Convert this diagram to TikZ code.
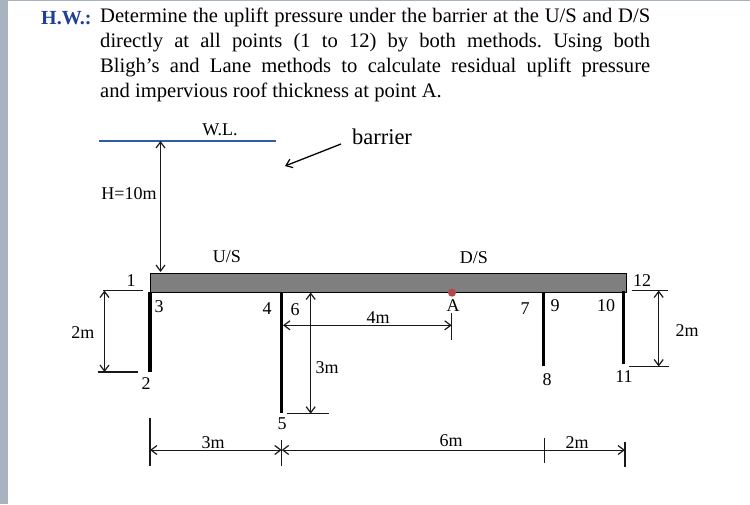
\documentclass[tikz,border=0pt]{standalone}
\usepackage{fontspec}
\setmainfont{Liberation Serif}
\usetikzlibrary{arrows.meta}
\definecolor{hwblue}{HTML}{1F3F94}
\definecolor{wlblue}{HTML}{2F5CA8}
\definecolor{strip}{HTML}{A9B2BF}
\definecolor{slab}{HTML}{7F7F7F}
\definecolor{dotred}{HTML}{B5474A}
\tikzset{
  x=1pt,y=-1pt,
  >={Straight Barb[length=6pt,width=9pt,line width=1.2pt]},
  lbl/.style={inner sep=0pt,yshift=-1pt,font=\fontsize{18}{20}\selectfont},
  dim/.style={line width=1pt,black!90},
  thin line/.style={line width=1.1pt,black!90},
  sheet/.style={line width=3.2pt},
  para/.style={inner sep=0pt,anchor=north west,text width=550pt,align=justify,font=\fontsize{20.6}{25}\selectfont}
}
\begin{document}
\begin{tikzpicture}
\useasboundingbox (0,0) rectangle (750,504);
\fill[white] (0,0) rectangle (750,504);
\fill[strip] (0,0) rectangle (8,504);
\fill[strip] (0,0) rectangle (750,1.2);
% text
\node[inner sep=0pt,anchor=base west,font=\fontsize{20}{25}\selectfont\bfseries,text=hwblue] (hw) at (41,24) {H.W.:};
\node[para] (body) at (100,7.5) {\frenchspacing Determine the uplift pressure under the barrier at the U/S and D/S\linebreak directly at all points (1 to 12) by both methods. Using both\linebreak Bligh’s and Lane methods to calculate residual uplift pressure\linebreak and impervious roof thickness at point A.};
% water level
\coordinate (wlL) at (99,140.5); \coordinate (wlR) at (276,140.5);
\draw[line width=2pt,wlblue] (wlL) -- (wlR);
\node[lbl] (wl) at (220,129) {W.L.};
\node[inner sep=0pt,font=\fontsize{22.5}{24}\selectfont] (barrier) at (382,137) {barrier};
\coordinate (barS) at (341,144); \coordinate (barE) at (285,166);
\draw[->,line width=1.3pt] (barS) -- (barE);
% slab
\node[draw=black,line width=1.1pt,fill=slab,inner sep=0pt,minimum width=476pt,minimum height=19.5pt,anchor=north west] (slabN) at (149.5,272.7) {};
% head
\coordinate (hT) at (160.5,141); \coordinate (hB) at (160.5,272);
\draw[<->,dim] (hT) -- (hB);
\node[lbl] (hh) at (129,193) {H=10m};
% sheet piles
\coordinate (s1T) at (150,292); \coordinate (s1B) at (150,371.5);
\coordinate (s2T) at (281.7,292); \coordinate (s2B) at (281.7,412.7);
\coordinate (s3T) at (543.3,292); \coordinate (s3B) at (543.3,366);
\coordinate (s4T) at (623.3,291); \coordinate (s4B) at (623.3,364);
\draw[sheet] (s1T) -- (s1B);
\draw[sheet] (s2T) -- (s2B);
\draw[sheet] (s3T) -- (s3B);
\draw[sheet] (s4T) -- (s4B);
% left 2m
\coordinate (l1a) at (103,290.5); \coordinate (l1b) at (143,290.5);
\coordinate (l2a) at (98,372); \coordinate (l2b) at (138,372);
\coordinate (lT) at (104.5,290.5); \coordinate (lB) at (104.5,372);
\draw[thin line] (l1a) -- (l1b);
\draw[thin line] (l2a) -- (l2b);
\draw[<->,dim] (lT) -- (lB);
\node[lbl] (d2l) at (83,332) {2m};
% 3m
\coordinate (m1T) at (310.7,292.5); \coordinate (m1B) at (310.7,413.7);
\coordinate (t3a) at (287,413.7); \coordinate (t3b) at (329,413.7);
\draw[thin line] (t3a) -- (t3b);
\draw[<->,dim] (m1T) -- (m1B);
\node[lbl] (d3) at (327,367) {3m};
% 4m to A
\coordinate (a4L) at (283,325.3); \coordinate (a4R) at (451.7,325.3);
\coordinate (tAa) at (451.7,313); \coordinate (tAb) at (451.7,340);
\draw[<->,dim] (a4L) -- (a4R);
\draw[thin line] (tAa) -- (tAb);
\node[lbl] (d4) at (378,317) {4m};
\node[circle,fill=dotred,inner sep=0pt,minimum size=8pt] (dotA) at (452,292.7) {};
\node[lbl] (la) at (453,305) {A};
% right 2m
\coordinate (r1a) at (632,290.5); \coordinate (r1b) at (668,290.5);
\coordinate (r2a) at (629,366.5); \coordinate (r2b) at (669,366.5);
\coordinate (rT) at (658.7,290.5); \coordinate (rB) at (658.7,366.5);
\draw[thin line] (r1a) -- (r1b);
\draw[thin line] (r2a) -- (r2b);
\draw[<->,dim] (rT) -- (rB);
\node[lbl] (d2r) at (687,330) {2m};
% bottom dims
\coordinate (b0) at (150,450); \coordinate (b1) at (281.7,450); \coordinate (b2) at (544.6,450); \coordinate (b3) at (625,450);
\coordinate (b0a) at (150,418); \coordinate (b0b) at (150,466);
\coordinate (b1a) at (281.7,440); \coordinate (b1b) at (281.7,466);
\coordinate (b2a) at (544.6,438); \coordinate (b2b) at (544.6,463);
\coordinate (b3a) at (625,442); \coordinate (b3b) at (625,467);
\draw[thin line] (b0a) -- (b0b);
\draw[thin line] (b1a) -- (b1b);
\draw[thin line] (b2a) -- (b2b);
\draw[thin line] (b3a) -- (b3b);
\draw[<->,dim] (b0) -- (b1);
\draw[<-,dim] (b1) -- (b2);
\draw[->,dim] (b2) -- (b3);
\node[lbl] (d3b) at (213,442) {3m};
\node[lbl] (d6b) at (451,440) {6m};
\node[lbl] (d2b) at (577,442) {2m};
% labels
\node[lbl] (u) at (227,256) {U/S};
\node[lbl] (d) at (474,257) {D/S};
\node[lbl] (p1) at (131,280) {1};
\node[lbl] (p2) at (146,383) {2};
\node[lbl] (p3) at (159,306) {3};
\node[lbl] (p4) at (267,308) {4};
\node[lbl] (p5) at (282,423) {5};
\node[lbl] (p6) at (295,309) {6};
\node[lbl] (p7) at (525,308) {7};
\node[lbl] (p8) at (547,379) {8};
\node[lbl] (p9) at (555,305) {9};
\node[lbl] (p10) at (606,305) {10};
\node[lbl] (p11) at (624,376) {11};
\node[lbl] (p12) at (642,280) {12};
\end{tikzpicture}
\end{document}
